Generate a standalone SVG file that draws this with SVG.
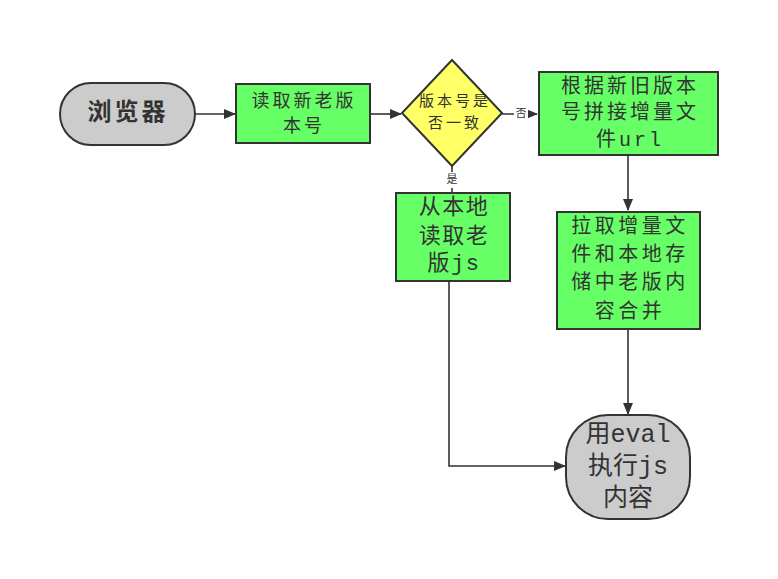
<svg xmlns="http://www.w3.org/2000/svg" width="778" height="579" viewBox="0 0 778 579">
<style>
.n{stroke:#333;stroke-width:2}
.g{fill:#66ff66}
.gr{fill:#cccccc}
.y{fill:#ffff66}
text{font-family:"Liberation Mono","Noto Sans CJK SC",monospace;fill:#333;text-anchor:middle;dominant-baseline:central}
.c{fill:none;stroke:#333;stroke-width:1.6}
</style>
<defs>
<marker id="a" markerWidth="12" markerHeight="10" refX="11" refY="5" orient="auto" markerUnits="userSpaceOnUse">
<path d="M0,0 L12,5 L0,10 Z" fill="#333"/>
</marker>
</defs>
<rect width="778" height="579" fill="#fff"/>
<g id="connectors">
<path class="c" d="M195,114 H235" marker-end="url(#a)"/>
<path class="c" d="M370,114 H401" marker-end="url(#a)"/>
<path class="c" d="M502,114 H537" marker-end="url(#a)"/>
<rect x="514" y="106" width="14" height="16" fill="#fff"/>
<text x="521" y="114" font-size="11">否</text>
<path class="c" d="M628,155 V210" marker-end="url(#a)"/>
<path class="c" d="M628,330 V414" marker-end="url(#a)"/>
<path class="c" d="M452,166 V193"/>
<rect x="445" y="172" width="14" height="16" fill="#fff"/>
<text x="452" y="180" font-size="11">是</text>
<path class="c" d="M449,282 V466 H565" marker-end="url(#a)"/>
</g>
<g id="browser">
<rect class="n gr" x="60" y="83" width="135" height="62" rx="31"/>
<text x="128" y="113" font-size="24" font-weight="bold" letter-spacing="3">浏览器</text>
</g>
<g id="read">
<rect class="n g" x="236" y="84" width="134" height="59"/>
<text x="304" y="102" font-size="18" letter-spacing="3">读取新老版</text>
<text x="304" y="127" font-size="18" letter-spacing="3">本号</text>
</g>
<g id="decision">
<polygon class="n y" points="452,60 502,113 452,166 402,113"/>
<text x="455" y="102" font-size="15" letter-spacing="3">版本号是</text>
<text x="455" y="124" font-size="15" letter-spacing="3">否一致</text>
</g>
<g id="concat">
<rect class="n g" x="539" y="72" width="179" height="83"/>
<text x="630" y="87" font-size="20" letter-spacing="3">根据新旧版本</text>
<text x="630" y="113" font-size="20" letter-spacing="3">号拼接增量文</text>
<text x="630" y="140" font-size="20" letter-spacing="3">件url</text>
</g>
<g id="merge">
<rect class="n g" x="557" y="212" width="143" height="117"/>
<text x="630" y="227" font-size="20" letter-spacing="3.5">拉取增量文</text>
<text x="630" y="255" font-size="20" letter-spacing="3.5">件和本地存</text>
<text x="630" y="283" font-size="20" letter-spacing="3.5">储中老版内</text>
<text x="630" y="312" font-size="20" letter-spacing="3.5">容合并</text>
</g>
<g id="local">
<rect class="n g" x="396" y="193" width="114" height="88"/>
<text x="454" y="208" font-size="22" letter-spacing="1.5">从本地</text>
<text x="454" y="237" font-size="22" letter-spacing="1.5">读取老</text>
<text x="454" y="264" font-size="22" letter-spacing="1.5">版js</text>
</g>
<g id="exec">
<rect class="n gr" x="566" y="415" width="124" height="104" rx="42"/>
<text x="628" y="435" font-size="25">用eval</text>
<text x="628" y="467" font-size="25">执行js</text>
<text x="628" y="499" font-size="25">内容</text>
</g>
</svg>
